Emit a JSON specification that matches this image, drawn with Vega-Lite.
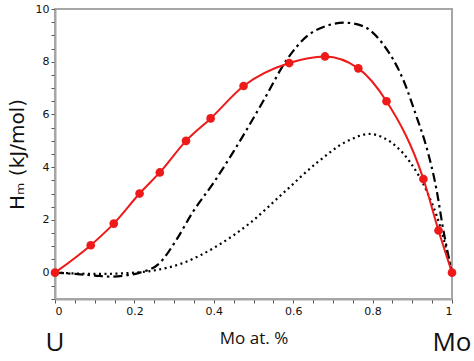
{
  "$schema": "https://vega.github.io/schema/vega-lite/v6.json",
  "autosize": "none",
  "width": 397,
  "height": 290,
  "padding": {"left": 55, "top": 9, "right": 22, "bottom": 62},
  "background": "white",
  "config": {
    "view": {"stroke": "#a6a6a6", "strokeWidth": 2},
    "axis": {
      "domainColor": "#a6a6a6", "domainWidth": 2, "grid": false,
      "tickColor": "#555555", "tickSize": 4, "tickWidth": 1,
      "labelFont": "DejaVu Sans", "labelFontSize": 11, "labelColor": "#111111",
      "labelOverlap": false, "labelBound": false,
      "titleFontWeight": "normal", "titleColor": "#111111"
    }
  },
  "datasets": {
    "calc": [
      {"x": 0, "y": 0}, {"x": 0.09, "y": 1.04}, {"x": 0.148, "y": 1.86}, {"x": 0.213, "y": 3.0},
      {"x": 0.264, "y": 3.8}, {"x": 0.33, "y": 5.0}, {"x": 0.392, "y": 5.85}, {"x": 0.475, "y": 7.08},
      {"x": 0.59, "y": 7.95}, {"x": 0.68, "y": 8.2}, {"x": 0.764, "y": 7.75}, {"x": 0.835, "y": 6.5},
      {"x": 0.928, "y": 3.55}, {"x": 0.966, "y": 1.6}, {"x": 1, "y": 0}
    ],
    "dashdot": [
      {"x": 0, "y": 0}, {"x": 0.05, "y": -0.05}, {"x": 0.1, "y": -0.11}, {"x": 0.14, "y": -0.15},
      {"x": 0.18, "y": -0.1}, {"x": 0.214, "y": 0}, {"x": 0.264, "y": 0.37}, {"x": 0.306, "y": 1.25},
      {"x": 0.348, "y": 2.32}, {"x": 0.399, "y": 3.4}, {"x": 0.45, "y": 4.6}, {"x": 0.525, "y": 6.52},
      {"x": 0.584, "y": 8.08}, {"x": 0.634, "y": 8.96}, {"x": 0.684, "y": 9.36}, {"x": 0.73, "y": 9.48},
      {"x": 0.777, "y": 9.34}, {"x": 0.827, "y": 8.65}, {"x": 0.877, "y": 7.32}, {"x": 0.911, "y": 5.9},
      {"x": 0.935, "y": 4.8}, {"x": 0.961, "y": 3.15}, {"x": 0.978, "y": 1.63}, {"x": 1, "y": 0}
    ],
    "dotted": [
      {"x": 0, "y": 0}, {"x": 0.05, "y": -0.03}, {"x": 0.1, "y": -0.05}, {"x": 0.15, "y": -0.04},
      {"x": 0.2, "y": 0}, {"x": 0.24, "y": 0.06}, {"x": 0.323, "y": 0.37}, {"x": 0.407, "y": 1.0},
      {"x": 0.491, "y": 1.88}, {"x": 0.575, "y": 3.02}, {"x": 0.659, "y": 4.16}, {"x": 0.735, "y": 4.98},
      {"x": 0.793, "y": 5.26}, {"x": 0.827, "y": 5.12}, {"x": 0.861, "y": 4.77}, {"x": 0.894, "y": 4.2},
      {"x": 0.936, "y": 3.1}, {"x": 0.97, "y": 1.76}, {"x": 1, "y": 0}
    ],
    "ends": [{"x": 0, "y": -1, "label": "U"}, {"x": 1, "y": -1, "label": "Mo"}]
  },
  "encoding": {
    "x": {
      "field": "x", "type": "quantitative", "scale": {"domain": [0, 1], "nice": false},
      "axis": {
        "values": [0,0.05,0.1,0.15,0.2,0.25,0.3,0.35,0.4,0.45,0.5,0.55,0.6,0.65,0.7,0.75,0.8,0.85,0.9,0.95,1],
        "format": "~g",
        "labelExpr": "round(datum.value*100) % 20 == 0 ? datum.label : ''",
        "title": "Mo at. %", "titleFont": "Open Sans", "titleFontSize": 17, "titlePadding": 14
      }
    },
    "y": {
      "field": "y", "type": "quantitative", "scale": {"domain": [-1, 10], "nice": false},
      "axis": {
        "values": [-1,-0.5,0,0.5,1,1.5,2,2.5,3,3.5,4,4.5,5,5.5,6,6.5,7,7.5,8,8.5,9,9.5,10],
        "format": "~g",
        "labelExpr": "(datum.value >= 0 && round(datum.value*2) % 4 == 0) ? datum.label : ''",
        "title": "Hₘ  (kJ/mol)", "titleFont": "DejaVu Sans", "titleFontSize": 20, "titlePadding": 8
      }
    }
  },
  "layer": [
    {
      "data": {"name": "dotted"},
      "mark": {"type": "line", "interpolate": "monotone", "color": "black", "strokeWidth": 2.2, "strokeDash": [2, 3.5], "clip": false}
    },
    {
      "data": {"name": "dashdot"},
      "mark": {"type": "line", "interpolate": "monotone", "color": "black", "strokeWidth": 2.2, "strokeDash": [9, 4, 2.5, 4], "clip": false}
    },
    {
      "data": {"name": "calc"},
      "mark": {"type": "line", "interpolate": "monotone", "color": "#ee1a1a", "strokeWidth": 2, "clip": false,
        "point": {"filled": true, "size": 75, "color": "#ee1a1a", "opacity": 1}}
    },
    {
      "data": {"name": "ends"},
      "mark": {"type": "text", "font": "Open Sans", "fontSize": 26, "baseline": "middle", "align": "center", "dy": 44, "color": "#111111"},
      "encoding": {
        "dx": {"condition": {"test": "datum.label == 'Mo'", "value": -8}, "value": 0},
        "text": {"field": "label"}
      }
    }
  ]
}
